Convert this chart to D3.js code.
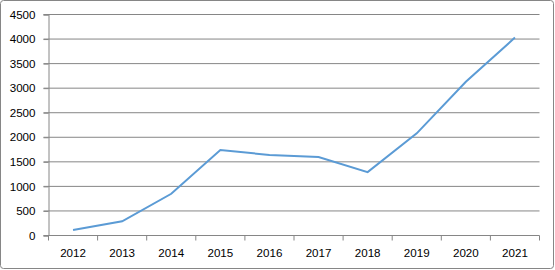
<!DOCTYPE html>
<html>
<head>
<meta charset="utf-8">
<script src="https://cdn.jsdelivr.net/npm/d3@7"></script>
<style>
  body { margin: 0; background: #fff; }
  text { font-family: "Liberation Sans", Arial, sans-serif; font-size: 11.6px; fill: #000; }
</style>
</head>
<body>
<script>
// data
var years = ["2012", "2013", "2014", "2015", "2016", "2017", "2018", "2019", "2020", "2021"];
var values = [110, 290, 850, 1740, 1640, 1600, 1290, 2080, 3130, 4030];
var yTicks = [0, 500, 1000, 1500, 2000, 2500, 3000, 3500, 4000, 4500];

var W = 555, H = 270;
var margin = {top: 14.5, right: 15.5, bottom: 34.5, left: 48.5},
    width = W - margin.left - margin.right,
    height = H - margin.top - margin.bottom;

var svg = d3.select("body")
  .append("svg")
    .attr("width", W)
    .attr("height", H);

// outer frame
svg.append("rect")
    .attr("x", 0.5).attr("y", 0.5)
    .attr("width", W - 2).attr("height", H - 2)
    .attr("rx", 3)
    .style("fill", "#fff")
    .style("stroke", "#868686");

var g = svg.append("g")
    .attr("transform", "translate(" + margin.left + "," + margin.top + ")");

var x = d3.scaleBand().domain(years).range([0, width]);
var y = d3.scaleLinear().domain([0, 4500]).range([height, 0]);

// gridlines
g.selectAll(".grid")
  .data(yTicks)
  .enter().append("line")
    .attr("x1", -5).attr("x2", width)
    .attr("y1", function(d) { return y(d); })
    .attr("y2", function(d) { return y(d); })
    .style("stroke", "#868686");

// y axis
var yAxis = g.append("g")
    .call(d3.axisLeft(y).tickValues(yTicks).tickFormat(d3.format("d")).tickSize(5).tickPadding(8));
yAxis.select(".domain").style("stroke", "#868686");
yAxis.selectAll(".tick line").style("stroke", "#868686");

// x axis with ticks between categories
var xAxis = g.append("g")
    .attr("transform", "translate(0," + height + ")")
    .call(d3.axisBottom(x).tickSize(0).tickPadding(13));
xAxis.select(".domain").remove();
xAxis.selectAll(".sep")
  .data(d3.range(years.length + 1))
  .enter().append("line")
    .attr("x1", function(i) { return i * x.step(); })
    .attr("x2", function(i) { return i * x.step(); })
    .attr("y1", 0).attr("y2", 5)
    .style("stroke", "#868686");

// line
var valueline = d3.line()
    .x(function(d, i) { return x(years[i]) + x.bandwidth() / 2; })
    .y(function(d) { return y(d); });

g.append("path")
    .data([values])
    .style("fill", "none")
    .style("stroke", "#5B9BD5")
    .style("stroke-width", 2)
    .attr("d", valueline);
</script>
</body>
</html>
